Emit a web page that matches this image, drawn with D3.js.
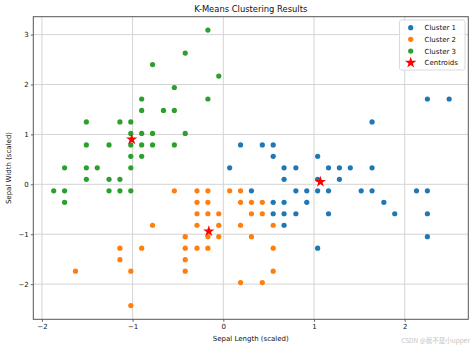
<!DOCTYPE html>
<html>
<head>
<meta charset="utf-8">
<script src="https://cdn.jsdelivr.net/npm/d3@7/dist/d3.min.js"></script>
<style>
  html, body { margin: 0; padding: 0; background: #fff; }
  svg { display: block; font-family: "DejaVu Sans", sans-serif; }
</style>
</head>
<body>
<svg id="chart" width="474" height="349"></svg>
<script>
// Standardised sepal measurements, [length, width], grouped by K-Means label
const cluster1 = [
  [2.25, 1.71], [2.49, 1.71],
  [1.64, 1.25],
  [0.19, 0.79], [0.43, 0.79], [0.55, 0.79],
  [0.55, 0.56], [1.04, 0.56],
  [0.07, 0.33], [0.67, 0.33], [0.80, 0.33], [1.16, 0.33], [1.28, 0.33], [1.40, 0.33], [1.64, 0.33],
  [0.67, 0.10], [1.04, 0.10], [1.28, 0.10],
  [0.31, -0.13], [0.80, -0.13], [0.92, -0.13], [1.04, -0.13], [1.16, -0.13], [1.52, -0.13], [1.64, -0.13], [2.13, -0.13], [2.25, -0.13],
  [0.55, -0.36], [0.67, -0.36], [0.92, -0.36], [1.77, -0.36],
  [0.55, -0.59], [0.67, -0.59], [0.80, -0.59], [1.16, -0.59], [1.89, -0.59], [2.25, -0.59],
  [0.67, -0.82],
  [2.25, -1.05],
  [1.04, -1.28]
];

const cluster2 = [
  [-0.54, -0.13], [-0.29, -0.13], [-0.17, -0.13], [0.07, -0.13], [0.19, -0.13],
  [-0.29, -0.36], [-0.17, -0.36], [0.19, -0.36], [0.31, -0.36], [0.43, -0.36],
  [-0.29, -0.59], [-0.17, -0.59], [-0.05, -0.59], [0.31, -0.59], [0.43, -0.59],
  [-0.78, -0.82], [-0.29, -0.82], [-0.05, -0.82], [0.19, -0.82], [0.55, -0.82],
  [-0.42, -1.05], [-0.17, -1.05], [-0.05, -1.05], [0.31, -1.05],
  [-1.14, -1.28], [-0.90, -1.28], [-0.42, -1.28], [-0.29, -1.28], [-0.17, -1.28], [0.55, -1.28],
  [-1.14, -1.51], [-0.42, -1.51],
  [-1.63, -1.74], [-1.02, -1.74], [-0.42, -1.74], [0.55, -1.74],
  [0.19, -1.97], [0.43, -1.97],
  [-1.02, -2.43]
];

const cluster3 = [
  [-0.17, 3.09],
  [-0.42, 2.63],
  [-0.78, 2.40],
  [-0.05, 2.17],
  [-0.54, 1.94],
  [-0.90, 1.71], [-0.17, 1.71],
  [-0.90, 1.48], [-0.66, 1.48], [-0.54, 1.48],
  [-1.51, 1.25], [-1.14, 1.25], [-1.02, 1.25],
  [-1.02, 1.02], [-0.90, 1.02], [-0.78, 1.02], [-0.42, 1.02],
  [-1.51, 0.79], [-1.26, 0.79], [-1.02, 0.79], [-0.90, 0.79], [-0.78, 0.79], [-0.54, 0.79],
  [-1.02, 0.56], [-0.90, 0.56],
  [-1.75, 0.33], [-1.51, 0.33], [-1.39, 0.33], [-1.02, 0.33],
  [-1.51, 0.10], [-1.26, 0.10], [-1.14, 0.10],
  [-1.87, -0.13], [-1.75, -0.13], [-1.26, -0.13], [-1.14, -0.13], [-1.02, -0.13],
  [-1.75, -0.36]
];

const centroids = [[1.07, 0.05], [-0.16, -0.94], [-1.01, 0.90]];

const clusterNames = ["Cluster 1", "Cluster 2", "Cluster 3"];
const clusterColors = ["#1f77b4", "#ff7f0e", "#2ca02c"];
const xTicks = [-2, -1, 0, 1, 2];
const yTicks = [-2, -1, 0, 1, 2, 3];

const svg = d3.select("#chart");
const W = 474, H = 349;
const margin = { left: 33.3, right: W - 468.3, top: 16.7, bottom: H - 319.3 };
const pw = W - margin.left - margin.right;
const ph = H - margin.top - margin.bottom;

const x = d3.scaleLinear().domain([-2.095, 2.701]).range([0, pw]);
const y = d3.scaleLinear().domain([-2.705, 3.359]).range([ph, 0]);

const g = svg.append("g").attr("transform", `translate(${margin.left},${margin.top})`);

// grid
g.append("g").selectAll("line").data(xTicks).join("line")
  .attr("x1", d => x(d)).attr("x2", d => x(d))
  .attr("y1", 0).attr("y2", ph)
  .attr("stroke", "#d4d4d4").attr("stroke-width", 1);
g.append("g").selectAll("line").data(yTicks).join("line")
  .attr("y1", d => y(d)).attr("y2", d => y(d))
  .attr("x1", 0).attr("x2", pw)
  .attr("stroke", "#d4d4d4").attr("stroke-width", 1);

// points
const clusters = [cluster1, cluster2, cluster3];
clusters.forEach((pts, i) => {
  g.append("g").selectAll("circle").data(pts).join("circle")
    .attr("cx", d => x(d[0])).attr("cy", d => y(d[1]))
    .attr("r", 2.6)
    .attr("fill", clusterColors[i]);
});

// centroids
const star = d3.symbol().type(d3.symbolStar).size(40);
g.append("g").selectAll("path").data(centroids).join("path")
  .attr("d", star)
  .attr("transform", d => `translate(${x(d[0])},${y(d[1])})`)
  .attr("fill", "red");

// axes
const fmt = d => d < 0 ? "\u2212" + Math.abs(d) : String(d);
const xAxis = g.append("g").attr("transform", `translate(0,${ph})`)
  .call(d3.axisBottom(x).tickValues(xTicks).tickFormat(fmt).tickSize(2.5).tickPadding(2));
const yAxis = g.append("g")
  .call(d3.axisLeft(y).tickValues(yTicks).tickFormat(fmt).tickSize(2.5).tickPadding(2));
[xAxis, yAxis].forEach(a => {
  a.select(".domain").remove();
  a.selectAll(".tick line").attr("stroke", "#444").attr("stroke-width", 0.8);
  a.selectAll(".tick text").attr("fill", "#111")
    .style("font-family", "DejaVu Sans").style("font-size", "7px");
});

// frame
g.append("rect").attr("x", 0).attr("y", 0).attr("width", pw).attr("height", ph)
  .attr("fill", "none").attr("stroke", "#555").attr("stroke-width", 1);

// titles
svg.append("text").attr("x", margin.left + pw / 2).attr("y", 11.5)
  .attr("text-anchor", "middle").style("font-size", "8.4px").attr("fill", "#111")
  .text("K-Means Clustering Results");
svg.append("text").attr("x", margin.left + pw / 2).attr("y", 341)
  .attr("text-anchor", "middle").style("font-size", "7px").attr("fill", "#111")
  .text("Sepal Length (scaled)");
svg.append("text")
  .attr("transform", `translate(10.5,${margin.top + ph / 2}) rotate(-90)`)
  .attr("text-anchor", "middle").style("font-size", "7px").attr("fill", "#111")
  .text("Sepal Width (scaled)");

// legend
const lg = svg.append("g").attr("transform", "translate(399.5,20)");
lg.append("rect").attr("width", 65.5).attr("height", 50).attr("rx", 2)
  .attr("fill", "#fff").attr("fill-opacity", 0.85)
  .attr("stroke", "#d0d0d0").attr("stroke-width", 0.8);
const items = clusterNames.map((n, i) => ({ name: n, color: clusterColors[i], star: false }))
  .concat([{ name: "Centroids", color: "red", star: true }]);
const rowY = d3.scaleLinear().domain([0, 3]).range([7.7, 42.7]);
items.forEach((it, i) => {
  const row = lg.append("g").attr("transform", `translate(11.2,${rowY(i)})`);
  if (it.star) {
    row.append("path").attr("d", d3.symbol().type(d3.symbolStar).size(40)).attr("fill", it.color);
  } else {
    row.append("circle").attr("r", 2.6).attr("fill", it.color);
  }
  lg.append("text").attr("x", 25).attr("y", rowY(i) + 2.5)
    .style("font-size", "7px").attr("fill", "#111").text(it.name);
});

// watermark
svg.append("text").attr("x", 470).attr("y", 343).attr("text-anchor", "end")
  .style("font-family", "'Noto Sans CJK SC', 'DejaVu Sans', sans-serif")
  .style("font-size", "6.5px").attr("fill", "#c4c4c4")
  .text("CSDN @我不是小upper");
</script>
</body>
</html>
